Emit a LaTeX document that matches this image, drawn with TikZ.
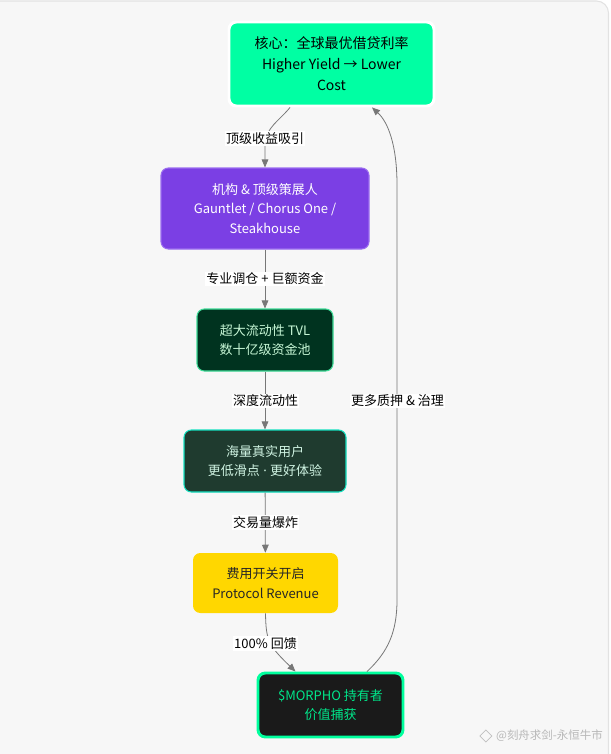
\documentclass[tikz,border=0pt]{standalone}
\usepackage{fontspec}
\setmainfont{Noto Sans CJK SC}
\newfontfamily\latinfont{Noto Sans}
\usetikzlibrary{arrows.meta,calc}
\definecolor{cardbg}{HTML}{F7F7F7}
\definecolor{cardline}{HTML}{E2E2E2}
\definecolor{coregreen}{HTML}{00FFA3}
\definecolor{purplefill}{HTML}{7B3FE4}
\definecolor{purpleline}{HTML}{9B6DF0}
\definecolor{dgfill}{HTML}{00331F}
\definecolor{dgline}{HTML}{3DDC97}
\definecolor{dgtext}{HTML}{C6F6D5}
\definecolor{tealfill}{HTML}{1F3B2F}
\definecolor{tealline}{HTML}{14E0C0}
\definecolor{tealtext}{HTML}{CFF3E2}
\definecolor{yellowfill}{HTML}{FFD700}
\definecolor{blackfill}{HTML}{1A1A1A}
\definecolor{blackline}{HTML}{00FF9D}
\definecolor{blacktext}{HTML}{00E68A}
\definecolor{edgegray}{HTML}{777777}
\tikzset{
  box/.style={rounded corners=5.5pt, align=center, inner sep=0pt},
  bodytext/.style={font=\fontsize{9.75}{14.5}\selectfont},
  edgelabel/.style={fill=white, inner sep=1pt, font=\fontsize{9.75}{12}\selectfont, text=black},
  flow/.style={draw=edgegray, line width=0.6pt, -{Triangle[length=6pt,width=5pt]}},
}
\begin{document}
\begin{tikzpicture}[x=0.75pt,y=-0.75pt]
\useasboundingbox (0,0) rectangle (611,754);
\fill[white] (0,0) rectangle (611,754);
\begin{scope}
\clip (0,0) rectangle (611,754);
\draw[fill=cardbg, draw=cardline, line width=0.8pt, rounded corners=9pt] (-12,1) rectangle (608.5,770);
\end{scope}

% nodes
\node[box, fill=coregreen, draw=white, line width=2.2pt, minimum width=205*0.75pt, minimum height=84*0.75pt,
      font=\fontsize{10.5}{15.75}\selectfont, text=black] (core) at (331.5,64)
  {核心：全球最优借贷利率\\Higher Yield → Lower\\Cost};
\node[box, fill=purplefill, draw=purpleline, line width=0.8pt, minimum width=208*0.75pt, minimum height=81*0.75pt,
      bodytext, text=white] (inst) at (265,208.5)
  {机构 \& 顶级策展人\\Gauntlet / Chorus One /\\Steakhouse};
\node[box, fill=dgfill, draw=dgline, line width=0.8pt, minimum width=136*0.75pt, minimum height=62*0.75pt,
      bodytext, text=dgtext] (tvl) at (265,340)
  {超大流动性 TVL\\数十亿级资金池};
\node[box, fill=tealfill, draw=tealline, line width=0.8pt, minimum width=162*0.75pt, minimum height=62*0.75pt,
      bodytext, text=tealtext] (users) at (265,461)
  {海量真实用户\\更低滑点{\latinfont\ ·\ }更好体验};
\node[box, fill=yellowfill, minimum width=145*0.75pt, minimum height=60*0.75pt,
      bodytext, text=black!85] (fee) at (265.5,583)
  {费用开关开启\\Protocol Revenue};
\node[box, fill=blackfill, draw=blackline, line width=2.2pt, minimum width=145*0.75pt, minimum height=64*0.75pt,
      bodytext, text=blacktext] (holder) at (330.5,705)
  {\$MORPHO 持有者\\价值捕获};

% anchor points
\path (core.south) ++(-41.5,0) coordinate (coreout);
\path (core.south) ++(40.5,0) coordinate (corein);
\path (holder.north) ++(-35,0) coordinate (holderin);
\path (holder.north) ++(36.5,0) coordinate (holderout);

% edges
\draw[flow] (coreout) .. controls (280,120) and (265,128) .. (265,145) -- (inst.north);
\draw[flow] (inst) -- (tvl);
\draw[flow] (tvl) -- (users);
\draw[flow] (users) -- (fee);
\draw[flow] (fee.south) .. controls (266,640) and (268,645) .. (holderin);
\draw[flow] (holderout) .. controls (388,652) and (397,632) .. (397,600) -- (397,185) .. controls (397,145) and (388,122) .. (corein);

% labels
\node[edgelabel] (l1) at (265,138.5) {顶级收益吸引};
\node[edgelabel] (l2) at (265,279) {专业调仓 + 巨额资金};
\node[edgelabel] (l3) at (265.5,401) {深度流动性};
\node[edgelabel] (l4) at (265.5,522.5) {交易量爆炸};
\node[edgelabel] (l5) at (265.5,643.5) {100\% 回馈};
\node[edgelabel] (l6) at (397.5,401) {更多质押 \& 治理};

% watermark
\node[font=\fontsize{8.6}{10}\selectfont, text=black!28, anchor=east, inner sep=0pt] (wm) at (603,736) {@刻舟求剑-永恒牛市};
\draw[black!25, line width=0.6pt] ($(wm.west)+(-10,-6)$) -- ($(wm.west)+(-4,0)$) -- ($(wm.west)+(-10,6)$) -- ($(wm.west)+(-16,0)$) -- cycle;
\end{tikzpicture}
\end{document}
